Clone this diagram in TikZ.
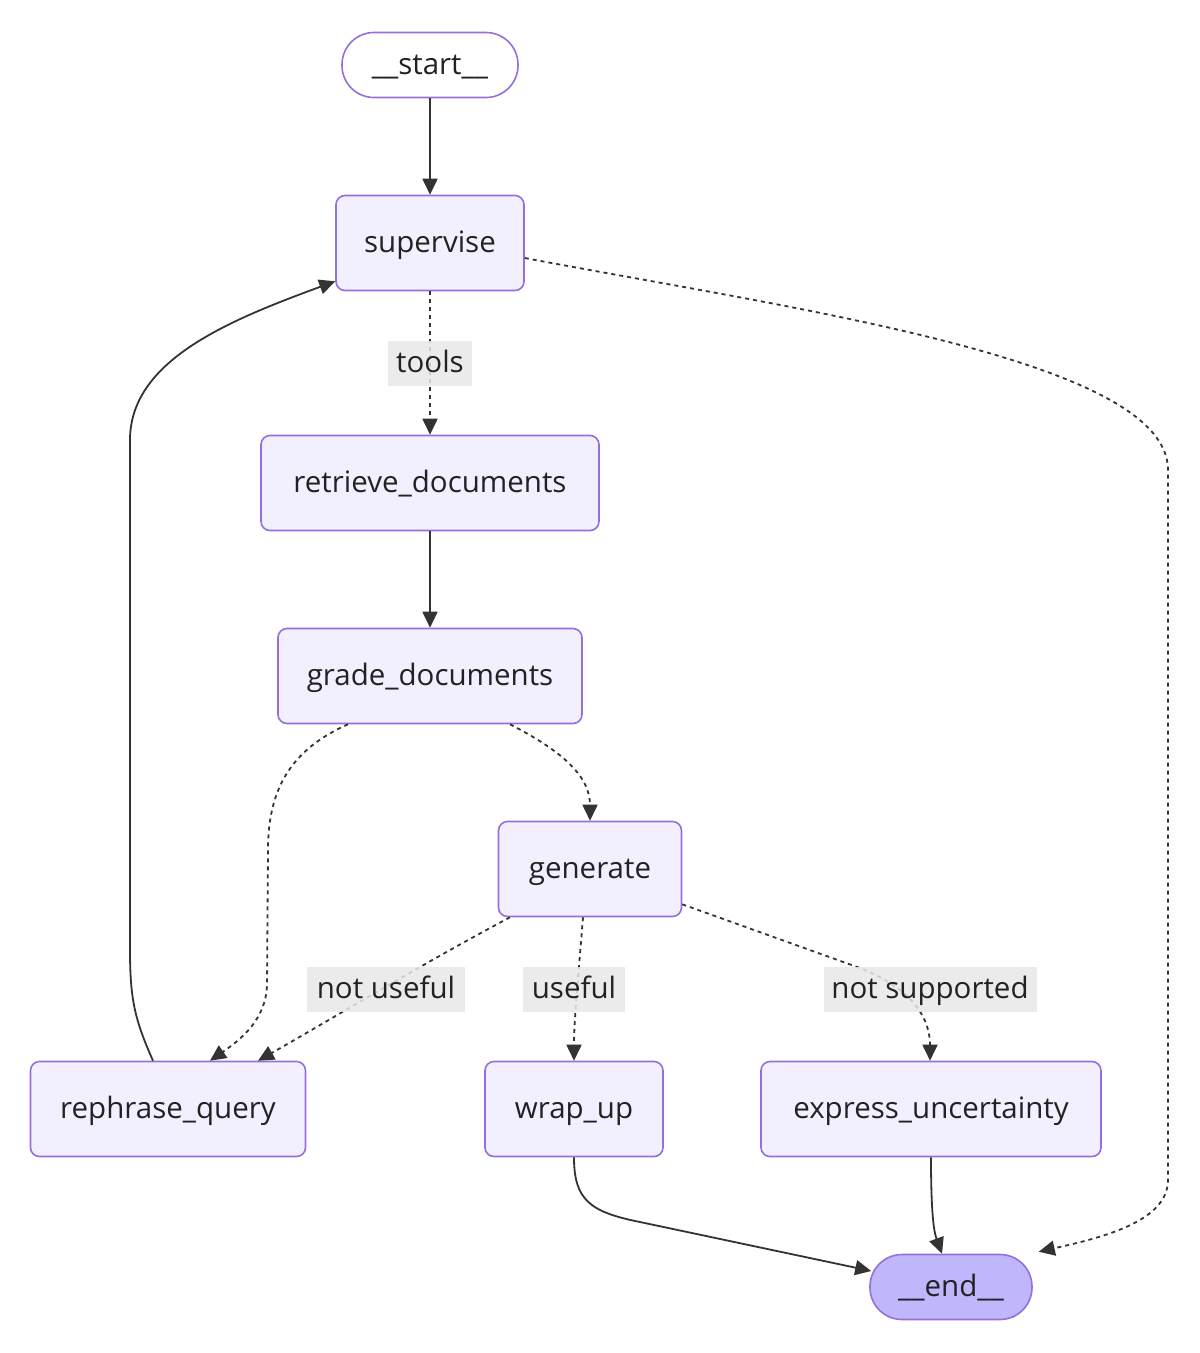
\documentclass[tikz,border=0pt]{standalone}
\usepackage{fontspec}
\setmainfont{Open Sans}
\usetikzlibrary{arrows.meta}
\definecolor{nodefill}{HTML}{F2F0FF}
\definecolor{endfill}{HTML}{BFB6FC}
\definecolor{nodestroke}{HTML}{9370DB}
\definecolor{linecol}{HTML}{333333}
\definecolor{labelfill}{HTML}{E8E8E8}
\definecolor{textcol}{HTML}{222222}
\begin{document}
\begin{tikzpicture}[x=1pt,y=-1pt,
  txt/.style={font=\fontsize{29.5}{34}\selectfont, text=textcol, text height=19pt, text depth=0pt},
  box/.style={txt, draw=nodestroke, line width=1.6pt, fill=nodefill, rounded corners=9pt,
    minimum width=#1, minimum height=95pt, inner sep=0pt},
  pill/.style={txt, draw=nodestroke, line width=1.6pt, rounded corners=32pt,
    minimum width=#1, minimum height=65pt, inner sep=0pt},
  lbl/.style={txt, fill=labelfill, fill opacity=0.85, text opacity=1, inner sep=0pt,
    minimum height=45pt, minimum width=#1},
  edge/.style={draw=linecol, line width=1.8pt, -{Triangle[length=16pt,width=15pt]}},
  dedge/.style={edge, dash pattern=on 4pt off 4pt},
]
\useasboundingbox (0,0) rectangle (1200,1353);
\fill[white] (0,0) rectangle (1200,1353);

\node[pill=176pt, fill=white] (start) at (430,65) {\_\_start\_\_};
\node[box=188pt] (sup) at (430,243) {supervise};
\node[box=338pt] (ret) at (430,483) {retrieve\_documents};
\node[box=304pt] (grade) at (430,676) {grade\_documents};
\node[box=183pt] (gen) at (590,869) {generate};
\node[box=275pt] (reph) at (168,1109) {rephrase\_query};
\node[box=178pt] (wrap) at (574,1109) {wrap\_up};
\node[box=340pt] (expr) at (931,1109) {express\_uncertainty};
\node[pill=162pt, fill=endfill] (end) at (951,1287) {\_\_end\_\_};

% edges
\draw[edge] (start.south) -- (sup.north);
\draw[dedge] (sup.south) -- (ret.north);
\node[lbl=84pt] (ltools) at (430,363) {tools};
\draw[edge] (ret.south) -- (grade.north);

\draw[dedge] ([yshift=-15pt]sup.east) .. controls (800,310) and (1168,360) .. (1168,470)
  -- (1168,1180) .. controls (1168,1222) and (1100,1238) .. ([xshift=6pt,yshift=2pt]end.north east);

\draw[dedge] ([xshift=-82pt]grade.south) .. controls (290,750) and (268,790) .. (268,850)
  -- (267,985) .. controls (266,1020) and (240,1040) .. ([xshift=42pt]reph.north);
\draw[dedge] ([xshift=80pt]grade.south) .. controls (560,750) and (590,775) .. (gen.north);

\draw[dedge] ([xshift=-80pt]gen.south) .. controls (420,965) and (330,1020) .. ([xshift=90pt]reph.north);
\node[lbl=158pt] (lnu) at (386,989) {not useful};

\draw[dedge] ([xshift=-7pt]gen.south) .. controls (578,980) and (574,1020) .. (wrap.north);
\node[lbl=102pt] (lu) at (574,989) {useful};

\draw[dedge] ([yshift=13pt]gen.south east) -- (860,968) .. controls (915,990) and (930,1020) .. ([xshift=-1pt]expr.north);
\node[lbl=213pt] (lns) at (930,989) {not supported};

\draw[edge] (reph.north) ++(-15pt,0) .. controls (135,1020) and (130,1000) .. (130,950)
  -- (130,440) .. controls (130,360) and (230,320) .. ([yshift=10pt]sup.south west);

\draw[edge] (wrap.south) .. controls (574,1200) and (590,1212) .. (640,1222) -- ([xshift=2pt,yshift=16pt]end.west);
\draw[edge] (expr.south) .. controls (931,1215) and (934,1232) .. ([xshift=-9pt]end.north);
\end{tikzpicture}
\end{document}
